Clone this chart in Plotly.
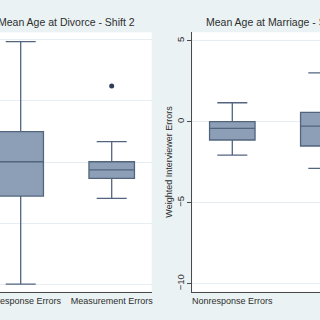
import plotly.graph_objects as go

# ---- data ----
categories = ["Nonresponse Errors", "Measurement Errors"]
panel_titles = ["Mean Age at Divorce - Shift 2", "Mean Age at Marriage - Shift 2"]
y_title = "Weighted Interviewer Errors"

# left panel (Divorce) box stats: lower, q1, median, q3, upper
div_lower = [-9.97, -2.97]
div_q1 = [-2.78, -1.33]
div_median = [0.02, -0.65]
div_q3 = [2.48, 0.02]
div_upper = [9.83, 1.66]
div_outlier_x = [1]
div_outlier_y = [6.2]

# right panel (Marriage)
mar_lower = [-2.06, -2.88]
mar_q1 = [-1.13, -1.50]
mar_median = [-0.41, -0.27]
mar_q3 = [0.0, 0.58]
mar_upper = [1.17, 3.02]

y_ticks = [-10, -5, 0, 5]
y_ticks_left = [-10, -5, 0, 5, 10]

# ---- style ----
W = H = 320
bg = "#EAF2F3"
fill = "#8C9FB6"
edge = "#52657D"
axis_col = "#4a4a4a"
grid_col = "#E6EEF1"
txt = "#2e2e2e"
FONT = "Liberation Sans, Arial, sans-serif"

def px(x):
    return x / W

def py(y):
    return 1 - y / H

fig = go.Figure()

xs = [0, 1]
fig.add_trace(go.Box(
    x=xs, q1=div_q1, median=div_median, q3=div_q3,
    lowerfence=div_lower, upperfence=div_upper,
    width=0.5, whiskerwidth=0.66, fillcolor=fill,
    line=dict(color=edge, width=1.3), boxpoints=False,
    xaxis="x", yaxis="y", showlegend=False, hoverinfo="skip"))
fig.add_trace(go.Scatter(
    x=div_outlier_x, y=div_outlier_y, mode="markers",
    marker=dict(color="#2c3e58", size=5), xaxis="x", yaxis="y",
    showlegend=False, hoverinfo="skip"))
fig.add_trace(go.Box(
    x=xs, q1=mar_q1, median=mar_median, q3=mar_q3,
    lowerfence=mar_lower, upperfence=mar_upper,
    width=0.5, whiskerwidth=0.66, fillcolor=fill,
    line=dict(color=edge, width=1.3), boxpoints=False,
    xaxis="x2", yaxis="y2", showlegend=False, hoverinfo="skip"))

ydom = [py(291.7), py(32.3)]
unit = 91.0

fig.update_layout(
    width=W, height=H, margin=dict(l=0, r=0, t=0, b=0, autoexpand=False),
    paper_bgcolor=bg, plot_bgcolor="white",
    font=dict(family=FONT, color=txt, size=9),
    xaxis=dict(domain=[0, px(151.7)], automargin=False,
               range=[(0 - 20.7) / unit, (151.7 - 20.7) / unit],
               tickvals=xs, ticktext=categories, showgrid=False,
               zeroline=False, showline=True, linecolor=axis_col,
               linewidth=1, ticks="", ticklabeloverflow="allow",
               tickfont=dict(size=9, color=txt)),
    yaxis=dict(domain=ydom, automargin=False,
               range=[(162 - 291.7) / 12.24, (162 - 32.3) / 12.24],
               tickvals=y_ticks_left, showticklabels=False,
               showgrid=True, gridcolor=grid_col, gridwidth=1,
               zeroline=False, showline=False),
    xaxis2=dict(domain=[px(192.3), 1], automargin=False,
                range=[(192.3 - 232.3) / unit, (320 - 232.3) / unit],
                tickvals=xs, ticktext=categories, showgrid=False,
                zeroline=False, showline=True, linecolor=axis_col,
                linewidth=1, ticks="", anchor="y2", ticklabeloverflow="allow",
                tickfont=dict(size=9, color=txt)),
    yaxis2=dict(domain=ydom, anchor="x2", automargin=False,
                range=[(121.7 - 291.7) / 16.2, (121.7 - 32.3) / 16.2],
                tickvals=y_ticks, tickangle=-90,
                showgrid=True, gridcolor=grid_col, gridwidth=1,
                zeroline=False, showline=True, linecolor=axis_col,
                linewidth=1, ticks="outside", ticklen=4, tickcolor=axis_col,
                tickfont=dict(size=9.5, color=txt),
                title=dict(text=y_title, font=dict(size=9, color=txt), standoff=0)),
)

# panel titles
fig.add_annotation(text=panel_titles[0], x=px(66.2), y=py(22), xref="paper", yref="paper",
                   showarrow=False, xanchor="center", yanchor="middle",
                   font=dict(size=10.5, color=txt, family=FONT))
fig.add_annotation(text=panel_titles[1], x=px(277.8), y=py(22), xref="paper", yref="paper",
                   showarrow=False, xanchor="center", yanchor="middle",
                   font=dict(size=10.5, color=txt, family=FONT))

fig.write_html("out.html")
